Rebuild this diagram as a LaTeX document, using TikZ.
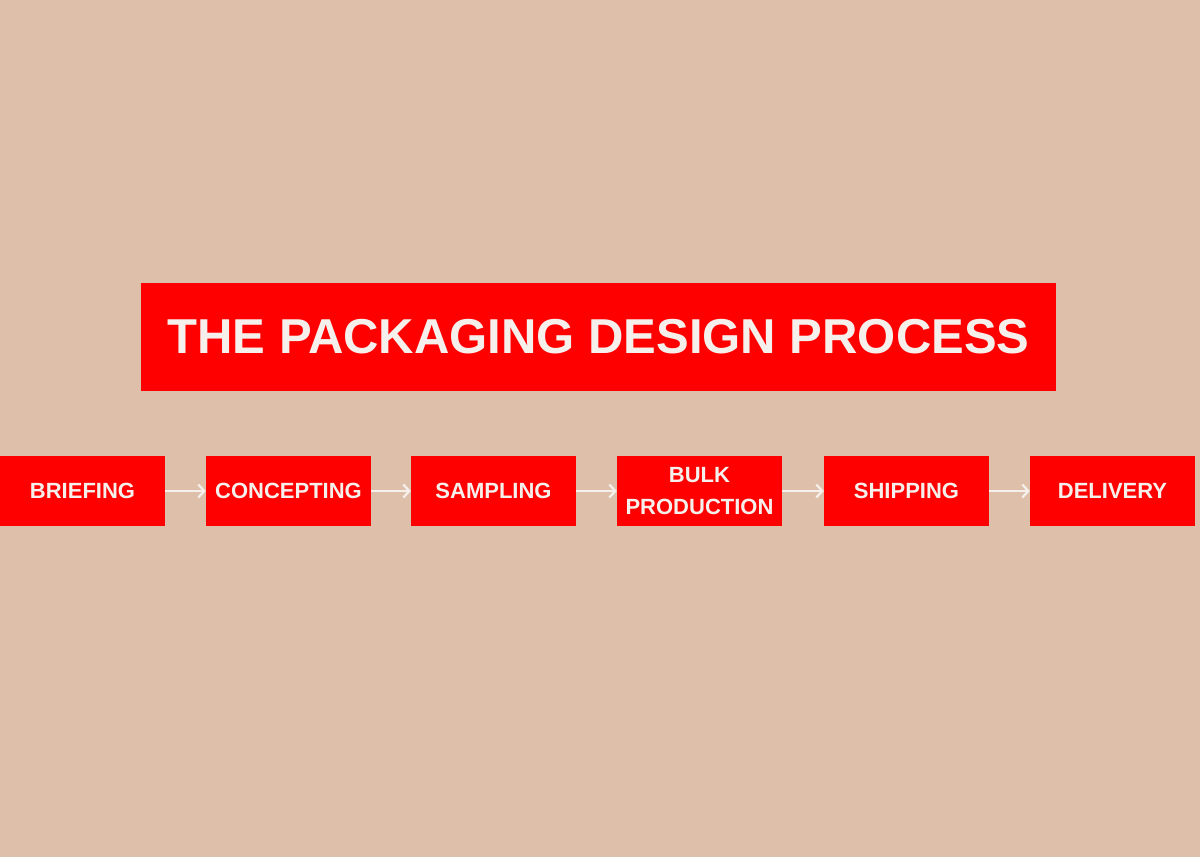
\documentclass[tikz,border=0pt]{standalone}
\usepackage{fontspec}
\setmainfont{Liberation Sans}
\usetikzlibrary{arrows.meta}
\definecolor{bgc}{RGB}{222,192,170}
\definecolor{boxred}{RGB}{255,0,0}
\definecolor{txt}{RGB}{246,240,236}
\begin{document}
\begin{tikzpicture}[x=1pt,y=-1pt,
  stepbox/.style={fill=boxred,draw=none,minimum width=165pt,minimum height=70pt,inner sep=0pt,
    text=txt,font=\fontsize{22}{32}\selectfont\bfseries,align=center},
  flow/.style={draw=txt,line width=2.2pt,-{Straight Barb[length=6pt,width=13pt,line width=2.2pt]}}]
\fill[bgc] (0,0) rectangle (1200,857);
\useasboundingbox (0,0) rectangle (1200,857);
\node[fill=boxred,minimum width=915pt,minimum height=108pt,inner sep=0pt,text=txt,
  font=\fontsize{49}{58}\selectfont\bfseries] (title) at (598.5,337) {THE PACKAGING DESIGN PROCESS};
\node[stepbox] (b1) at (82.5,491) {BRIEFING};
\node[stepbox] (b2) at (288.5,491) {CONCEPTING};
\node[stepbox] (b3) at (493.5,491) {SAMPLING};
\node[stepbox] (b4) at (699.5,491) {BULK\\PRODUCTION};
\node[stepbox] (b5) at (906.5,491) {SHIPPING};
\node[stepbox] (b6) at (1112.5,491) {DELIVERY};
\draw[flow] (b1) -- (b2);
\draw[flow] (b2) -- (b3);
\draw[flow] (b3) -- (b4);
\draw[flow] (b4) -- (b5);
\draw[flow] (b5) -- (b6);
\end{tikzpicture}
\end{document}
